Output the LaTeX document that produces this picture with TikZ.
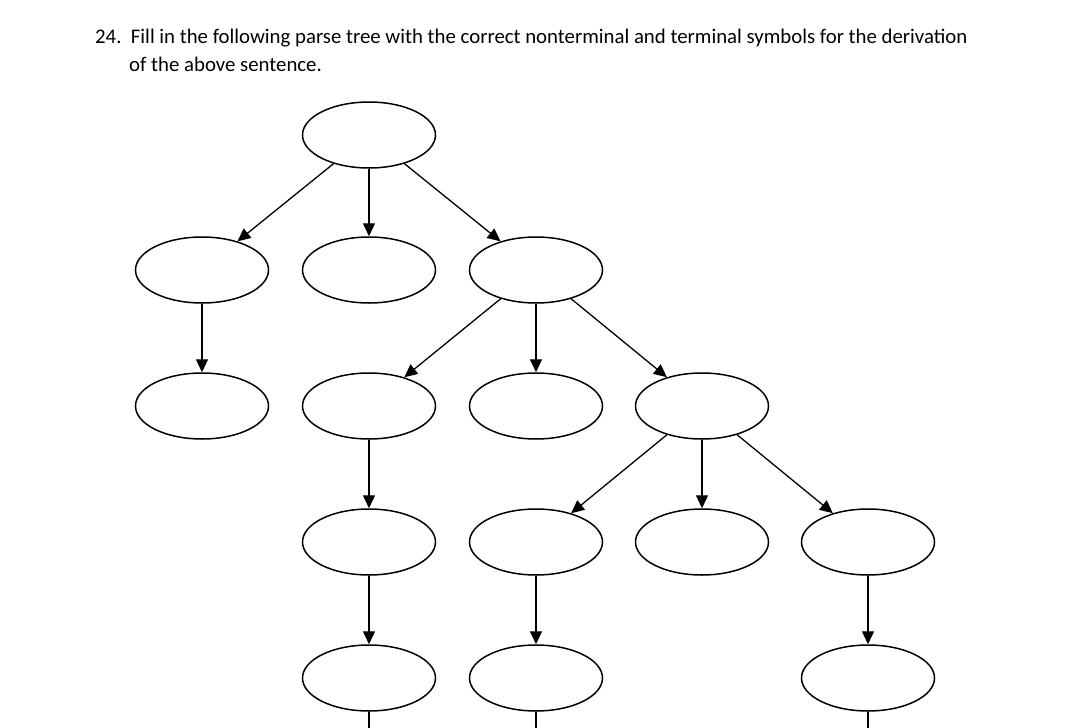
\documentclass[tikz,border=0pt]{standalone}
\usepackage{fontspec}
\setmainfont{Carlito}
\usetikzlibrary{arrows.meta,shapes.geometric}
\begin{document}
\begin{tikzpicture}[x=1pt,y=-1pt,
  nd/.style={draw,line width=1.5pt,ellipse,minimum width=133pt,minimum height=66pt,inner sep=0pt},
  ed/.style={line width=1.3pt,-{Triangle[length=13pt,width=12pt]}},
  ln/.style={line width=1.3pt},
  tx/.style={anchor=base west,font=\fontsize{20.8}{25}\selectfont,inner sep=0pt}]
\useasboundingbox (0,0) rectangle (1090,728);
\node[tx] (t1) at (95,43) {24.\ \ Fill in the following parse tree with the correct nonterminal and terminal symbols for the derivation};
\node[tx] (t2) at (129,71) {of the above sentence.};
\node[nd] (r) at (369,135) {};
\node[nd] (a1) at (202,270) {};
\node[nd] (a2) at (369,270) {};
\node[nd] (a3) at (536,270) {};
\node[nd] (b1) at (202,406) {};
\node[nd] (b2) at (369,406) {};
\node[nd] (b3) at (536,406) {};
\node[nd] (b4) at (702,406) {};
\node[nd] (c1) at (369,542) {};
\node[nd] (c2) at (536,542) {};
\node[nd] (c3) at (702,542) {};
\node[nd] (c4) at (868,542) {};
\node[nd] (d1) at (369,678) {};
\node[nd] (d2) at (536,678) {};
\node[nd] (d4) at (868,678) {};
\coordinate (e1) at (369,730);
\coordinate (e2) at (536,730);
\coordinate (e4) at (868,730);
\draw[ed] (r) -- (a1); \draw[ed] (r) -- (a2); \draw[ed] (r) -- (a3);
\draw[ed] (a1) -- (b1);
\draw[ed] (a3) -- (b2); \draw[ed] (a3) -- (b3); \draw[ed] (a3) -- (b4);
\draw[ed] (b2) -- (c1);
\draw[ed] (b4) -- (c2); \draw[ed] (b4) -- (c3); \draw[ed] (b4) -- (c4);
\draw[ed] (c1) -- (d1); \draw[ed] (c2) -- (d2); \draw[ed] (c4) -- (d4);
\draw[ln] (d1) -- (e1); \draw[ln] (d2) -- (e2); \draw[ln] (d4) -- (e4);
\end{tikzpicture}
\end{document}
